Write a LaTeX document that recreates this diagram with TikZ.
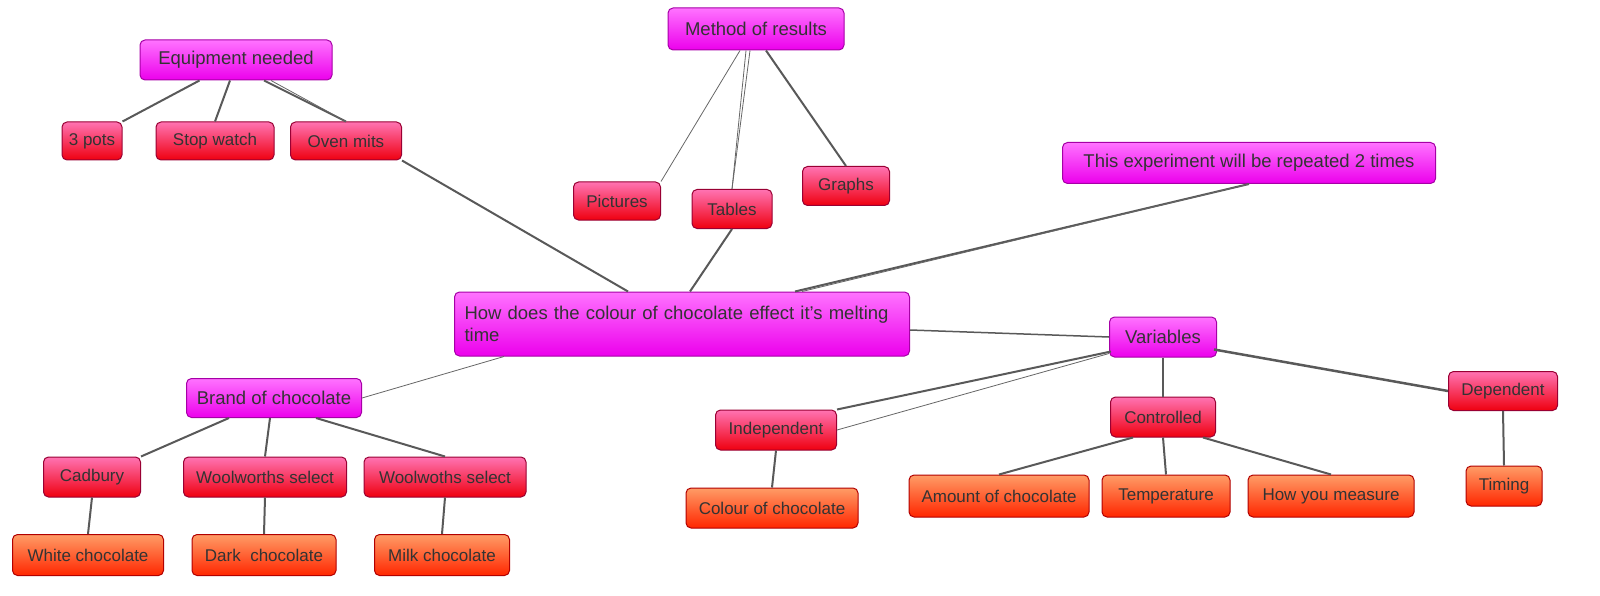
\documentclass[tikz,border=0pt]{standalone}
\usepackage{fontspec}
\setmainfont{Liberation Sans}
\begin{document}
\begin{tikzpicture}[x=1pt,y=-1pt,
 box/.style={draw,rounded corners=5pt,line width=1pt,inner sep=0pt,font=\fontsize{18.5}{22}\selectfont,text=black!80},
 mag/.style={box,draw=violet!70!magenta,top color=magenta!55!white,bottom color=magenta!85!violet},
 red/.style={box,draw=purple!80!black,top color=red!55!magenta!55!white,bottom color=red!75!purple,font=\fontsize{17}{20}\selectfont},
 ora/.style={box,draw=red!70!black,top color=orange!70!red!60!white,bottom color=red!70!orange,font=\fontsize{17}{20}\selectfont},
 ln/.style={draw=black!65,line width=2pt},
 lt/.style={draw=black!60,line width=0.8pt}]
\useasboundingbox (0,0) rectangle (1600,596);
\node[mag,minimum width=192,minimum height=40] (eq) at (236,60) {Equipment needed};
\node[red,minimum width=60,minimum height=38] (pots) at (92,141) {3 pots};
\node[red,minimum width=118,minimum height=38] (sw) at (215,141) {Stop watch};
\node[red,minimum width=111,minimum height=38] (om) at (346,141) {Oven mits};
\node[mag,minimum width=176,minimum height=42] (mr) at (756,29) {Method of results};
\node[red,minimum width=87,minimum height=38] (pic) at (617,201) {Pictures};
\node[red,minimum width=80,minimum height=39] (tab) at (732,209) {Tables};
\node[red,minimum width=87,minimum height=39] (gr) at (846,186) {Graphs};
\node[mag,minimum width=373,minimum height=41] (ex) at (1249,163) {This experiment will be repeated 2 times};
\node[mag,minimum width=455,minimum height=64,text width=435,align=left] (main) at (682,324) {How does the colour of chocolate effect it's melting\\time};
\node[mag,minimum width=107,minimum height=40] (var) at (1163,337) {Variables};
\node[mag,minimum width=175,minimum height=39] (br) at (274,398) {Brand of chocolate};
\node[red,minimum width=97,minimum height=40] (cad) at (92,477) {Cadbury};
\node[red,minimum width=163,minimum height=40] (ws1) at (265,477) {Woolworths select};
\node[red,minimum width=162,minimum height=40] (ws2) at (445,477) {Woolwoths select};
\node[ora,minimum width=151,minimum height=41] (wc) at (88,555) {White chocolate};
\node[ora,minimum width=144,minimum height=41] (dc) at (264,555) {Dark\ \ chocolate};
\node[ora,minimum width=135,minimum height=41] (mc) at (442,555) {Milk chocolate};
\node[red,minimum width=121,minimum height=40] (ind) at (776,430) {Independent};
\node[ora,minimum width=172,minimum height=40] (coc) at (772,508) {Colour of chocolate};
\node[red,minimum width=105,minimum height=40] (con) at (1163,417) {Controlled};
\node[ora,minimum width=180,minimum height=42] (aoc) at (999,496) {Amount of chocolate};
\node[ora,minimum width=128,minimum height=42] (tmp) at (1166,496) {Temperature};
\node[ora,minimum width=166,minimum height=42] (hym) at (1331,496) {How you measure};
\node[red,minimum width=109,minimum height=39] (dep) at (1503,391) {Dependent};
\node[ora,minimum width=76,minimum height=40] (tim) at (1504,486) {Timing};
\path[ln] (eq.south west)++(60,0) -- (pots.north east);
\path[ln] (eq.south)++(-6,0) -- (sw.north)++(12,0);
\path[ln] (eq.south)++(28,0) -- (om.north);
\path[lt] (eq.south)++(35,0) -- (om.north)++(14,0);
\path[lt] (mr.south)++(-16,0) -- (pic.north east)++(-25,0);
\path[lt] (mr.south)++(-10,0) -- (tab.north)++(-12,0);
\path[lt] (mr.south)++(-6,0) -- (tab.north)++(4,0);
\path[ln] (mr.south)++(10,0) -- (gr.north)++(-15,0);
\path[ln] (main.north)++(-54,0) -- (om.south east);
\path[ln] (main.north)++(8,0) -- (tab.south)++(-20,0);
\path[ln] (main.north)++(113,0) -- (ex.south)++(-72,0);
\path[lt] (main.north)++(120,0) -- (ex.south)++(-72,0);
\path[ln,line width=1.5pt] (main.east)++(0,6) -- (var.west);
\path[lt] (main.south west)++(50,0) -- (br.east)++(0,-12);
\path[ln] (br.south)++(-45,0) -- (cad.north east)++(-20,0);
\path[ln] (br.south)++(-4,0) -- (ws1.north)++(5,0);
\path[ln] (br.south)++(42,0) -- (ws2.north)++(-48,0);
\path[ln] (cad.south) -- (wc.north)++(4,0);
\path[ln] (ws1.south) -- (dc.north)++(2,0);
\path[ln] (ws2.south) -- (mc.north)++(2,0);
\path[ln] (var.south west)++(2,-6) -- (ind.north east)++(-5,0);
\path[lt] (var.south west)++(0,-4) -- (ind.east)++(0,-8);
\path[ln] (var.south) -- (con.north);
\path[ln,line width=2.5pt] (var.south east)++(-3,-8) -- (dep.west)++(0,-12);
\path[ln] (ind.south) -- (coc.north)++(4,0);
\path[ln] (con.south)++(-30,0) -- (aoc.north)++(45,0);
\path[ln] (con.south) -- (tmp.north)++(-3,0);
\path[ln] (con.south)++(40,0) -- (hym.north)++(-45,0);
\path[ln] (dep.south) -- (tim.north);
\end{tikzpicture}
\end{document}
